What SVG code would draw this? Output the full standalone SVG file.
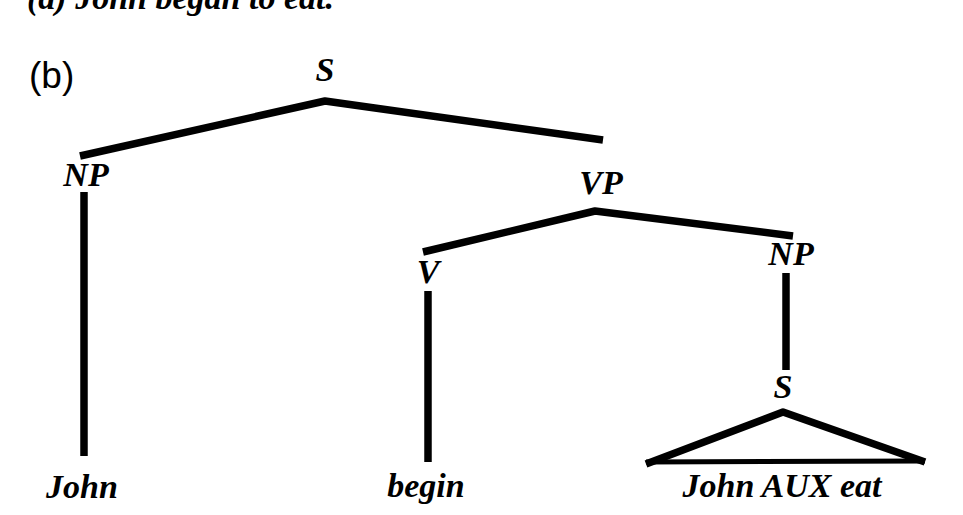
<svg xmlns="http://www.w3.org/2000/svg" width="963" height="515" viewBox="0 0 963 515">
<style>
.lbl{font-family:"Liberation Serif",serif;font-weight:bold;font-style:italic;font-size:34px;fill:#000;text-anchor:middle}
.edge{stroke:#000;stroke-width:7.5;fill:none;stroke-linejoin:round}
.thin{stroke:#000;stroke-width:5;fill:none}
</style>
<rect width="963" height="515" fill="#fff"/>
<text x="27" y="9" style="font-family:'Liberation Serif',serif;font-style:italic;font-weight:bold;font-size:34px">(a) John began to eat.</text>
<text x="29" y="88" style="font-family:'Liberation Sans',sans-serif;font-size:37px">(b)</text>
<g id="connectors">
<polyline class="edge" points="80,156 325,101 603,140"/>
<line class="edge" x1="84" y1="192" x2="84" y2="456"/>
<polyline class="edge" points="423,252 595,211 793,236"/>
<line class="edge" x1="428" y1="291" x2="428" y2="462"/>
<line class="edge" x1="786" y1="273" x2="786" y2="370"/>
<polyline class="edge" points="646,464 783,412 925,462"/>
<line class="thin" x1="646" y1="462" x2="925" y2="461"/>
</g>
<g id="n-S"><text class="lbl" x="325" y="81">S</text></g>
<g id="n-NP1"><text class="lbl" x="86" y="186">NP</text></g>
<g id="n-VP"><text class="lbl" x="601" y="194">VP</text></g>
<g id="n-V"><text class="lbl" x="428" y="283">V</text></g>
<g id="n-NP2"><text class="lbl" x="791" y="265">NP</text></g>
<g id="n-S2"><text class="lbl" x="783" y="398">S</text></g>
<g id="n-John"><text class="lbl" x="82" y="498">John</text></g>
<g id="n-begin"><text class="lbl" x="426" y="497">begin</text></g>
<g id="n-JAE"><text class="lbl" x="782" y="497">John AUX eat</text></g>
</svg>
